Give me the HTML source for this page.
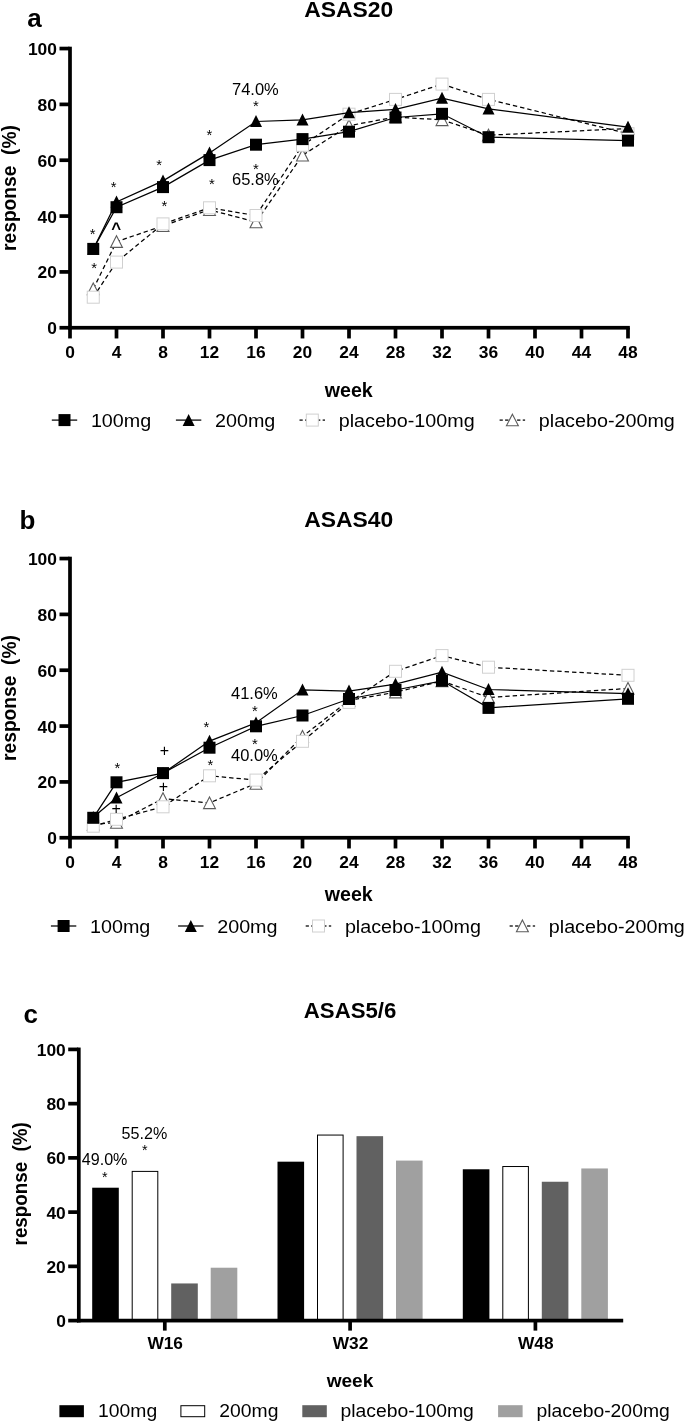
<!DOCTYPE html>
<html lang="en"><head><meta charset="utf-8"><title>ASAS response figure</title>
<style>
html,body{margin:0;padding:0;background:#fff;}
body{width:685px;height:1423px;overflow:hidden;}
svg{display:block;font-family:'Liberation Sans', Arial, sans-serif;fill:#000;}
svg text{white-space:pre;}
</style></head><body>
<svg width="685" height="1423" viewBox="0 0 685 1423" shape-rendering="auto">
<rect width="685" height="1423" fill="#fff"/>
<rect x="68.15" y="46.70" width="3.7" height="282.90" fill="#000"/>
<rect x="68.15" y="325.90" width="561.70" height="3.7" fill="#000"/>
<rect x="59.5" y="325.90" width="10" height="3.7" fill="#000"/>
<text x="56.90" y="334.00" font-size="17.4" font-weight="700" text-anchor="end">0</text>
<rect x="59.5" y="270.06" width="10" height="3.7" fill="#000"/>
<text x="56.90" y="278.00" font-size="17.4" font-weight="700" text-anchor="end">20</text>
<rect x="59.5" y="214.22" width="10" height="3.7" fill="#000"/>
<text x="56.90" y="223.00" font-size="17.4" font-weight="700" text-anchor="end">40</text>
<rect x="59.5" y="158.38" width="10" height="3.7" fill="#000"/>
<text x="56.90" y="167.00" font-size="17.4" font-weight="700" text-anchor="end">60</text>
<rect x="59.5" y="102.54" width="10" height="3.7" fill="#000"/>
<text x="56.90" y="111.00" font-size="17.4" font-weight="700" text-anchor="end">80</text>
<rect x="59.5" y="46.70" width="10" height="3.7" fill="#000"/>
<text x="56.90" y="55.00" font-size="17.4" font-weight="700" text-anchor="end">100</text>
<rect x="68.15" y="327.75" width="3.7" height="10.7" fill="#000"/>
<text x="70.00" y="358.00" font-size="17.4" font-weight="700" text-anchor="middle">0</text>
<rect x="114.65" y="327.75" width="3.7" height="10.7" fill="#000"/>
<text x="116.50" y="358.00" font-size="17.4" font-weight="700" text-anchor="middle">4</text>
<rect x="161.15" y="327.75" width="3.7" height="10.7" fill="#000"/>
<text x="163.00" y="358.00" font-size="17.4" font-weight="700" text-anchor="middle">8</text>
<rect x="207.65" y="327.75" width="3.7" height="10.7" fill="#000"/>
<text x="209.50" y="358.00" font-size="17.4" font-weight="700" text-anchor="middle">12</text>
<rect x="254.15" y="327.75" width="3.7" height="10.7" fill="#000"/>
<text x="256.00" y="358.00" font-size="17.4" font-weight="700" text-anchor="middle">16</text>
<rect x="300.65" y="327.75" width="3.7" height="10.7" fill="#000"/>
<text x="302.50" y="358.00" font-size="17.4" font-weight="700" text-anchor="middle">20</text>
<rect x="347.15" y="327.75" width="3.7" height="10.7" fill="#000"/>
<text x="349.00" y="358.00" font-size="17.4" font-weight="700" text-anchor="middle">24</text>
<rect x="393.65" y="327.75" width="3.7" height="10.7" fill="#000"/>
<text x="395.50" y="358.00" font-size="17.4" font-weight="700" text-anchor="middle">28</text>
<rect x="440.15" y="327.75" width="3.7" height="10.7" fill="#000"/>
<text x="442.00" y="358.00" font-size="17.4" font-weight="700" text-anchor="middle">32</text>
<rect x="486.65" y="327.75" width="3.7" height="10.7" fill="#000"/>
<text x="488.50" y="358.00" font-size="17.4" font-weight="700" text-anchor="middle">36</text>
<rect x="533.15" y="327.75" width="3.7" height="10.7" fill="#000"/>
<text x="535.00" y="358.00" font-size="17.4" font-weight="700" text-anchor="middle">40</text>
<rect x="579.65" y="327.75" width="3.7" height="10.7" fill="#000"/>
<text x="581.50" y="358.00" font-size="17.4" font-weight="700" text-anchor="middle">44</text>
<rect x="626.15" y="327.75" width="3.7" height="10.7" fill="#000"/>
<text x="628.00" y="358.00" font-size="17.4" font-weight="700" text-anchor="middle">48</text>
<text x="348.70" y="17.00" font-size="22.9" font-weight="700" text-anchor="middle">ASAS20</text>
<text x="348.80" y="397.00" font-size="19.6" font-weight="700" text-anchor="middle">week</text>
<text transform="translate(15.7 188.00) rotate(-90) scale(0.96 1)" font-size="20" font-weight="700" text-anchor="middle">response  (%)</text>
<text x="27.30" y="26.50" font-size="26" font-weight="700" text-anchor="start">a</text>
<path d="M93.25 289.00L116.50 241.70L163.00 225.80L209.50 209.80L256.00 222.00L302.50 155.30L349.00 125.70L395.50 117.00L442.00 119.90L488.50 135.20L628.00 128.50" fill="none" stroke="#000" stroke-width="1.25" stroke-dasharray="4.4 3"/>
<path d="M93.25 283.05L99.20 294.70L87.30 294.70Z" fill="#fff" stroke="#5c5c5c" stroke-width="1.1" stroke-linejoin="miter"/>
<path d="M116.50 235.75L122.45 247.40L110.55 247.40Z" fill="#fff" stroke="#5c5c5c" stroke-width="1.1" stroke-linejoin="miter"/>
<path d="M163.00 219.85L168.95 231.50L157.05 231.50Z" fill="#fff" stroke="#5c5c5c" stroke-width="1.1" stroke-linejoin="miter"/>
<path d="M209.50 203.85L215.45 215.50L203.55 215.50Z" fill="#fff" stroke="#5c5c5c" stroke-width="1.1" stroke-linejoin="miter"/>
<path d="M256.00 216.05L261.95 227.70L250.05 227.70Z" fill="#fff" stroke="#5c5c5c" stroke-width="1.1" stroke-linejoin="miter"/>
<path d="M302.50 149.35L308.45 161.00L296.55 161.00Z" fill="#fff" stroke="#5c5c5c" stroke-width="1.1" stroke-linejoin="miter"/>
<path d="M349.00 119.75L354.95 131.40L343.05 131.40Z" fill="#fff" stroke="#5c5c5c" stroke-width="1.1" stroke-linejoin="miter"/>
<path d="M395.50 111.05L401.45 122.70L389.55 122.70Z" fill="#fff" stroke="#5c5c5c" stroke-width="1.1" stroke-linejoin="miter"/>
<path d="M442.00 113.95L447.95 125.60L436.05 125.60Z" fill="#fff" stroke="#5c5c5c" stroke-width="1.1" stroke-linejoin="miter"/>
<path d="M488.50 129.25L494.45 140.90L482.55 140.90Z" fill="#fff" stroke="#5c5c5c" stroke-width="1.1" stroke-linejoin="miter"/>
<path d="M628.00 122.55L633.95 134.20L622.05 134.20Z" fill="#fff" stroke="#5c5c5c" stroke-width="1.1" stroke-linejoin="miter"/>
<path d="M93.25 297.20L116.50 262.10L163.00 223.90L209.50 207.80L256.00 215.50L302.50 145.30L349.00 114.20L395.50 99.40L442.00 84.10L488.50 99.40L628.00 133.70" fill="none" stroke="#000" stroke-width="1.25" stroke-dasharray="4.4 3"/>
<rect x="87.25" y="291.20" width="12.00" height="12.00" fill="#fff" stroke="#d0d0d0" stroke-width="1.0"/>
<rect x="110.50" y="256.10" width="12.00" height="12.00" fill="#fff" stroke="#d0d0d0" stroke-width="1.0"/>
<rect x="157.00" y="217.90" width="12.00" height="12.00" fill="#fff" stroke="#d0d0d0" stroke-width="1.0"/>
<rect x="203.50" y="201.80" width="12.00" height="12.00" fill="#fff" stroke="#d0d0d0" stroke-width="1.0"/>
<rect x="250.00" y="209.50" width="12.00" height="12.00" fill="#fff" stroke="#d0d0d0" stroke-width="1.0"/>
<rect x="296.50" y="139.30" width="12.00" height="12.00" fill="#fff" stroke="#d0d0d0" stroke-width="1.0"/>
<rect x="343.00" y="108.20" width="12.00" height="12.00" fill="#fff" stroke="#d0d0d0" stroke-width="1.0"/>
<rect x="389.50" y="93.40" width="12.00" height="12.00" fill="#fff" stroke="#d0d0d0" stroke-width="1.0"/>
<rect x="436.00" y="78.10" width="12.00" height="12.00" fill="#fff" stroke="#d0d0d0" stroke-width="1.0"/>
<rect x="482.50" y="93.40" width="12.00" height="12.00" fill="#fff" stroke="#d0d0d0" stroke-width="1.0"/>
<rect x="622.00" y="127.70" width="12.00" height="12.00" fill="#fff" stroke="#d0d0d0" stroke-width="1.0"/>
<path d="M93.25 249.20L116.50 202.00L163.00 180.90L209.50 152.90L256.00 121.50L302.50 119.80L349.00 112.60L395.50 109.30L442.00 98.10L488.50 108.90L628.00 127.10" fill="none" stroke="#000" stroke-width="1.25"/>
<path d="M93.25 242.80L99.25 254.80L87.25 254.80Z" fill="#000"/>
<path d="M116.50 195.60L122.50 207.60L110.50 207.60Z" fill="#000"/>
<path d="M163.00 174.50L169.00 186.50L157.00 186.50Z" fill="#000"/>
<path d="M209.50 146.50L215.50 158.50L203.50 158.50Z" fill="#000"/>
<path d="M256.00 115.10L262.00 127.10L250.00 127.10Z" fill="#000"/>
<path d="M302.50 113.40L308.50 125.40L296.50 125.40Z" fill="#000"/>
<path d="M349.00 106.20L355.00 118.20L343.00 118.20Z" fill="#000"/>
<path d="M395.50 102.90L401.50 114.90L389.50 114.90Z" fill="#000"/>
<path d="M442.00 91.70L448.00 103.70L436.00 103.70Z" fill="#000"/>
<path d="M488.50 102.50L494.50 114.50L482.50 114.50Z" fill="#000"/>
<path d="M628.00 120.70L634.00 132.70L622.00 132.70Z" fill="#000"/>
<path d="M93.25 248.90L116.50 207.20L163.00 187.10L209.50 160.10L256.00 144.70L302.50 139.10L349.00 131.70L395.50 117.50L442.00 113.80L488.50 137.20L628.00 140.60" fill="none" stroke="#000" stroke-width="1.25"/>
<rect x="87.25" y="242.90" width="12.00" height="12.00" fill="#000"/>
<rect x="110.50" y="201.20" width="12.00" height="12.00" fill="#000"/>
<rect x="157.00" y="181.10" width="12.00" height="12.00" fill="#000"/>
<rect x="203.50" y="154.10" width="12.00" height="12.00" fill="#000"/>
<rect x="250.00" y="138.70" width="12.00" height="12.00" fill="#000"/>
<rect x="296.50" y="133.10" width="12.00" height="12.00" fill="#000"/>
<rect x="343.00" y="125.70" width="12.00" height="12.00" fill="#000"/>
<rect x="389.50" y="111.50" width="12.00" height="12.00" fill="#000"/>
<rect x="436.00" y="107.80" width="12.00" height="12.00" fill="#000"/>
<rect x="482.50" y="131.20" width="12.00" height="12.00" fill="#000"/>
<rect x="622.00" y="134.60" width="12.00" height="12.00" fill="#000"/>
<text x="232.00" y="94.80" font-size="16.5" text-anchor="start">74.0%</text>
<text x="232.00" y="185.10" font-size="16.5" text-anchor="start">65.8%</text>
<text x="92.60" y="239.00" font-size="14.8" text-anchor="middle">*</text>
<text x="113.70" y="192.10" font-size="14.8" text-anchor="middle">*</text>
<text x="159.10" y="170.30" font-size="14.8" text-anchor="middle">*</text>
<text x="164.30" y="210.70" font-size="14.8" text-anchor="middle">*</text>
<text x="211.80" y="188.90" font-size="14.8" text-anchor="middle">*</text>
<text x="209.50" y="139.70" font-size="14.8" text-anchor="middle">*</text>
<text x="94.10" y="272.90" font-size="14.8" text-anchor="middle">*</text>
<text x="256.00" y="111.40" font-size="14.8" text-anchor="middle">*</text>
<text x="256.00" y="173.50" font-size="14.8" text-anchor="middle">*</text>
<text x="116.20" y="233.50" font-size="16.96" font-weight="700" text-anchor="middle">^</text>
<path d="M51.80 420.1H77.20" stroke="#000" stroke-width="1.25"/>
<rect x="58.50" y="414.10" width="12.00" height="12.00" fill="#000"/>
<text transform="translate(90.90 426.70) scale(1.0792349726775956 1)" font-size="18.3">100mg</text>
<path d="M175.90 420.1H201.30" stroke="#000" stroke-width="1.25"/>
<path d="M188.60 414.10L194.60 426.10L182.60 426.10Z" fill="#000"/>
<text transform="translate(215.00 426.70) scale(1.0792349726775956 1)" font-size="18.3">200mg</text>
<path d="M299.50 420.1H302.70" stroke="#000" stroke-width="1.25"/>
<path d="M305.00 420.1H308.40" stroke="#000" stroke-width="1.25"/>
<path d="M317.00 420.1H320.30" stroke="#000" stroke-width="1.25"/>
<path d="M322.65 420.1H325.00" stroke="#000" stroke-width="1.25"/>
<rect x="306.30" y="414.10" width="12.00" height="12.00" fill="#fff" stroke="#d0d0d0" stroke-width="1.0"/>
<text transform="translate(338.70 426.70) scale(1.0792349726775956 1)" font-size="18.3">placebo-100mg</text>
<path d="M499.60 420.1H502.80" stroke="#000" stroke-width="1.25"/>
<path d="M505.10 420.1H508.50" stroke="#000" stroke-width="1.25"/>
<path d="M517.10 420.1H520.40" stroke="#000" stroke-width="1.25"/>
<path d="M522.75 420.1H525.10" stroke="#000" stroke-width="1.25"/>
<path d="M512.40 414.15L518.35 425.80L506.45 425.80Z" fill="#fff" stroke="#5c5c5c" stroke-width="1.1" stroke-linejoin="miter"/>
<text transform="translate(538.80 426.70) scale(1.0792349726775956 1)" font-size="18.3">placebo-200mg</text>
<rect x="68.15" y="556.70" width="3.7" height="282.90" fill="#000"/>
<rect x="68.15" y="835.90" width="561.70" height="3.7" fill="#000"/>
<rect x="59.5" y="835.90" width="10" height="3.7" fill="#000"/>
<text x="56.90" y="844.00" font-size="17.4" font-weight="700" text-anchor="end">0</text>
<rect x="59.5" y="780.06" width="10" height="3.7" fill="#000"/>
<text x="56.90" y="788.00" font-size="17.4" font-weight="700" text-anchor="end">20</text>
<rect x="59.5" y="724.22" width="10" height="3.7" fill="#000"/>
<text x="56.90" y="733.00" font-size="17.4" font-weight="700" text-anchor="end">40</text>
<rect x="59.5" y="668.38" width="10" height="3.7" fill="#000"/>
<text x="56.90" y="677.00" font-size="17.4" font-weight="700" text-anchor="end">60</text>
<rect x="59.5" y="612.54" width="10" height="3.7" fill="#000"/>
<text x="56.90" y="621.00" font-size="17.4" font-weight="700" text-anchor="end">80</text>
<rect x="59.5" y="556.70" width="10" height="3.7" fill="#000"/>
<text x="56.90" y="565.00" font-size="17.4" font-weight="700" text-anchor="end">100</text>
<rect x="68.15" y="837.75" width="3.7" height="10.7" fill="#000"/>
<text x="70.00" y="868.00" font-size="17.4" font-weight="700" text-anchor="middle">0</text>
<rect x="114.65" y="837.75" width="3.7" height="10.7" fill="#000"/>
<text x="116.50" y="868.00" font-size="17.4" font-weight="700" text-anchor="middle">4</text>
<rect x="161.15" y="837.75" width="3.7" height="10.7" fill="#000"/>
<text x="163.00" y="868.00" font-size="17.4" font-weight="700" text-anchor="middle">8</text>
<rect x="207.65" y="837.75" width="3.7" height="10.7" fill="#000"/>
<text x="209.50" y="868.00" font-size="17.4" font-weight="700" text-anchor="middle">12</text>
<rect x="254.15" y="837.75" width="3.7" height="10.7" fill="#000"/>
<text x="256.00" y="868.00" font-size="17.4" font-weight="700" text-anchor="middle">16</text>
<rect x="300.65" y="837.75" width="3.7" height="10.7" fill="#000"/>
<text x="302.50" y="868.00" font-size="17.4" font-weight="700" text-anchor="middle">20</text>
<rect x="347.15" y="837.75" width="3.7" height="10.7" fill="#000"/>
<text x="349.00" y="868.00" font-size="17.4" font-weight="700" text-anchor="middle">24</text>
<rect x="393.65" y="837.75" width="3.7" height="10.7" fill="#000"/>
<text x="395.50" y="868.00" font-size="17.4" font-weight="700" text-anchor="middle">28</text>
<rect x="440.15" y="837.75" width="3.7" height="10.7" fill="#000"/>
<text x="442.00" y="868.00" font-size="17.4" font-weight="700" text-anchor="middle">32</text>
<rect x="486.65" y="837.75" width="3.7" height="10.7" fill="#000"/>
<text x="488.50" y="868.00" font-size="17.4" font-weight="700" text-anchor="middle">36</text>
<rect x="533.15" y="837.75" width="3.7" height="10.7" fill="#000"/>
<text x="535.00" y="868.00" font-size="17.4" font-weight="700" text-anchor="middle">40</text>
<rect x="579.65" y="837.75" width="3.7" height="10.7" fill="#000"/>
<text x="581.50" y="868.00" font-size="17.4" font-weight="700" text-anchor="middle">44</text>
<rect x="626.15" y="837.75" width="3.7" height="10.7" fill="#000"/>
<text x="628.00" y="868.00" font-size="17.4" font-weight="700" text-anchor="middle">48</text>
<text x="348.70" y="527.00" font-size="22.9" font-weight="700" text-anchor="middle">ASAS40</text>
<text x="348.80" y="901.00" font-size="19.6" font-weight="700" text-anchor="middle">week</text>
<text transform="translate(15.7 698.00) rotate(-90) scale(0.96 1)" font-size="20" font-weight="700" text-anchor="middle">response  (%)</text>
<text x="19.50" y="528.60" font-size="26" font-weight="700" text-anchor="start">b</text>
<path d="M93.25 824.50L116.50 822.50L163.00 798.70L209.50 802.90L256.00 783.50L302.50 736.40L349.00 700.50L395.50 692.20L442.00 681.00L488.50 697.50L628.00 688.50" fill="none" stroke="#000" stroke-width="1.25" stroke-dasharray="4.4 3"/>
<path d="M93.25 818.55L99.20 830.20L87.30 830.20Z" fill="#fff" stroke="#5c5c5c" stroke-width="1.1" stroke-linejoin="miter"/>
<path d="M116.50 816.55L122.45 828.20L110.55 828.20Z" fill="#fff" stroke="#5c5c5c" stroke-width="1.1" stroke-linejoin="miter"/>
<path d="M163.00 792.75L168.95 804.40L157.05 804.40Z" fill="#fff" stroke="#5c5c5c" stroke-width="1.1" stroke-linejoin="miter"/>
<path d="M209.50 796.95L215.45 808.60L203.55 808.60Z" fill="#fff" stroke="#5c5c5c" stroke-width="1.1" stroke-linejoin="miter"/>
<path d="M256.00 777.55L261.95 789.20L250.05 789.20Z" fill="#fff" stroke="#5c5c5c" stroke-width="1.1" stroke-linejoin="miter"/>
<path d="M302.50 730.45L308.45 742.10L296.55 742.10Z" fill="#fff" stroke="#5c5c5c" stroke-width="1.1" stroke-linejoin="miter"/>
<path d="M349.00 694.55L354.95 706.20L343.05 706.20Z" fill="#fff" stroke="#5c5c5c" stroke-width="1.1" stroke-linejoin="miter"/>
<path d="M395.50 686.25L401.45 697.90L389.55 697.90Z" fill="#fff" stroke="#5c5c5c" stroke-width="1.1" stroke-linejoin="miter"/>
<path d="M442.00 675.05L447.95 686.70L436.05 686.70Z" fill="#fff" stroke="#5c5c5c" stroke-width="1.1" stroke-linejoin="miter"/>
<path d="M488.50 691.55L494.45 703.20L482.55 703.20Z" fill="#fff" stroke="#5c5c5c" stroke-width="1.1" stroke-linejoin="miter"/>
<path d="M628.00 682.55L633.95 694.20L622.05 694.20Z" fill="#fff" stroke="#5c5c5c" stroke-width="1.1" stroke-linejoin="miter"/>
<path d="M93.25 826.20L116.50 819.30L163.00 806.80L209.50 775.80L256.00 780.10L302.50 741.30L349.00 702.40L395.50 671.30L442.00 655.60L488.50 667.20L628.00 675.30" fill="none" stroke="#000" stroke-width="1.25" stroke-dasharray="4.4 3"/>
<rect x="87.25" y="820.20" width="12.00" height="12.00" fill="#fff" stroke="#d0d0d0" stroke-width="1.0"/>
<rect x="110.50" y="813.30" width="12.00" height="12.00" fill="#fff" stroke="#d0d0d0" stroke-width="1.0"/>
<rect x="157.00" y="800.80" width="12.00" height="12.00" fill="#fff" stroke="#d0d0d0" stroke-width="1.0"/>
<rect x="203.50" y="769.80" width="12.00" height="12.00" fill="#fff" stroke="#d0d0d0" stroke-width="1.0"/>
<rect x="250.00" y="774.10" width="12.00" height="12.00" fill="#fff" stroke="#d0d0d0" stroke-width="1.0"/>
<rect x="296.50" y="735.30" width="12.00" height="12.00" fill="#fff" stroke="#d0d0d0" stroke-width="1.0"/>
<rect x="343.00" y="696.40" width="12.00" height="12.00" fill="#fff" stroke="#d0d0d0" stroke-width="1.0"/>
<rect x="389.50" y="665.30" width="12.00" height="12.00" fill="#fff" stroke="#d0d0d0" stroke-width="1.0"/>
<rect x="436.00" y="649.60" width="12.00" height="12.00" fill="#fff" stroke="#d0d0d0" stroke-width="1.0"/>
<rect x="482.50" y="661.20" width="12.00" height="12.00" fill="#fff" stroke="#d0d0d0" stroke-width="1.0"/>
<rect x="622.00" y="669.30" width="12.00" height="12.00" fill="#fff" stroke="#d0d0d0" stroke-width="1.0"/>
<path d="M93.25 817.30L116.50 797.80L163.00 773.30L209.50 741.10L256.00 722.80L302.50 689.80L349.00 691.00L395.50 684.20L442.00 672.20L488.50 689.50L628.00 693.60" fill="none" stroke="#000" stroke-width="1.25"/>
<path d="M93.25 810.90L99.25 822.90L87.25 822.90Z" fill="#000"/>
<path d="M116.50 791.40L122.50 803.40L110.50 803.40Z" fill="#000"/>
<path d="M163.00 766.90L169.00 778.90L157.00 778.90Z" fill="#000"/>
<path d="M209.50 734.70L215.50 746.70L203.50 746.70Z" fill="#000"/>
<path d="M256.00 716.40L262.00 728.40L250.00 728.40Z" fill="#000"/>
<path d="M302.50 683.40L308.50 695.40L296.50 695.40Z" fill="#000"/>
<path d="M349.00 684.60L355.00 696.60L343.00 696.60Z" fill="#000"/>
<path d="M395.50 677.80L401.50 689.80L389.50 689.80Z" fill="#000"/>
<path d="M442.00 665.80L448.00 677.80L436.00 677.80Z" fill="#000"/>
<path d="M488.50 683.10L494.50 695.10L482.50 695.10Z" fill="#000"/>
<path d="M628.00 687.20L634.00 699.20L622.00 699.20Z" fill="#000"/>
<path d="M93.25 817.80L116.50 782.30L163.00 773.10L209.50 747.70L256.00 726.30L302.50 715.50L349.00 699.00L395.50 690.00L442.00 680.80L488.50 707.90L628.00 698.80" fill="none" stroke="#000" stroke-width="1.25"/>
<rect x="87.25" y="811.80" width="12.00" height="12.00" fill="#000"/>
<rect x="110.50" y="776.30" width="12.00" height="12.00" fill="#000"/>
<rect x="157.00" y="767.10" width="12.00" height="12.00" fill="#000"/>
<rect x="203.50" y="741.70" width="12.00" height="12.00" fill="#000"/>
<rect x="250.00" y="720.30" width="12.00" height="12.00" fill="#000"/>
<rect x="296.50" y="709.50" width="12.00" height="12.00" fill="#000"/>
<rect x="343.00" y="693.00" width="12.00" height="12.00" fill="#000"/>
<rect x="389.50" y="684.00" width="12.00" height="12.00" fill="#000"/>
<rect x="436.00" y="674.80" width="12.00" height="12.00" fill="#000"/>
<rect x="482.50" y="701.90" width="12.00" height="12.00" fill="#000"/>
<rect x="622.00" y="692.80" width="12.00" height="12.00" fill="#000"/>
<text x="231.00" y="699.00" font-size="16.5" text-anchor="start">41.6%</text>
<text x="231.00" y="761.20" font-size="16.5" text-anchor="start">40.0%</text>
<text x="117.40" y="773.40" font-size="14.8" text-anchor="middle">*</text>
<text x="206.50" y="731.70" font-size="14.8" text-anchor="middle">*</text>
<text x="210.40" y="770.10" font-size="14.8" text-anchor="middle">*</text>
<text x="255.00" y="715.60" font-size="14.8" text-anchor="middle">*</text>
<text x="255.00" y="748.60" font-size="14.8" text-anchor="middle">*</text>
<text x="116.20" y="813.60" font-size="16" text-anchor="middle">+</text>
<text x="164.30" y="755.80" font-size="16" text-anchor="middle">+</text>
<text x="163.50" y="791.80" font-size="16" text-anchor="middle">+</text>
<path d="M50.90 926.0H76.30" stroke="#000" stroke-width="1.25"/>
<rect x="57.60" y="920.00" width="12.00" height="12.00" fill="#000"/>
<text transform="translate(90.00 932.60) scale(1.0792349726775956 1)" font-size="18.3">100mg</text>
<path d="M178.10 926.0H203.50" stroke="#000" stroke-width="1.25"/>
<path d="M190.80 920.00L196.80 932.00L184.80 932.00Z" fill="#000"/>
<text transform="translate(217.20 932.60) scale(1.0792349726775956 1)" font-size="18.3">200mg</text>
<path d="M305.70 926.0H308.90" stroke="#000" stroke-width="1.25"/>
<path d="M311.20 926.0H314.60" stroke="#000" stroke-width="1.25"/>
<path d="M323.20 926.0H326.50" stroke="#000" stroke-width="1.25"/>
<path d="M328.85 926.0H331.20" stroke="#000" stroke-width="1.25"/>
<rect x="312.50" y="920.00" width="12.00" height="12.00" fill="#fff" stroke="#d0d0d0" stroke-width="1.0"/>
<text transform="translate(344.90 932.60) scale(1.0792349726775956 1)" font-size="18.3">placebo-100mg</text>
<path d="M509.60 926.0H512.80" stroke="#000" stroke-width="1.25"/>
<path d="M515.10 926.0H518.50" stroke="#000" stroke-width="1.25"/>
<path d="M527.10 926.0H530.40" stroke="#000" stroke-width="1.25"/>
<path d="M532.75 926.0H535.10" stroke="#000" stroke-width="1.25"/>
<path d="M522.40 920.05L528.35 931.70L516.45 931.70Z" fill="#fff" stroke="#5c5c5c" stroke-width="1.1" stroke-linejoin="miter"/>
<text transform="translate(548.80 932.60) scale(1.0792349726775956 1)" font-size="18.3">placebo-200mg</text>
<rect x="162.95" y="1320.60" width="3.7" height="10" fill="#000"/>
<text x="165.20" y="1348.90" font-size="17.3" font-weight="700" text-anchor="middle">W16</text>
<rect x="92.20" y="1187.71" width="26.6" height="132.89" fill="#000"/>
<rect x="132.20" y="1171.40" width="25.60" height="149.20" fill="#fff" stroke="#000" stroke-width="1"/>
<rect x="171.20" y="1283.45" width="26.6" height="37.15" fill="#616161"/>
<rect x="210.70" y="1267.72" width="26.6" height="52.88" fill="#a0a0a0"/>
<rect x="348.25" y="1320.60" width="3.7" height="10" fill="#000"/>
<text x="350.50" y="1348.90" font-size="17.3" font-weight="700" text-anchor="middle">W32</text>
<rect x="277.50" y="1161.68" width="26.6" height="158.92" fill="#000"/>
<rect x="317.50" y="1135.06" width="25.60" height="185.54" fill="#fff" stroke="#000" stroke-width="1"/>
<rect x="356.50" y="1136.18" width="26.6" height="184.42" fill="#616161"/>
<rect x="396.00" y="1160.59" width="26.6" height="160.01" fill="#a0a0a0"/>
<rect x="533.55" y="1320.60" width="3.7" height="10" fill="#000"/>
<text x="535.80" y="1348.90" font-size="17.3" font-weight="700" text-anchor="middle">W48</text>
<rect x="462.80" y="1169.27" width="26.6" height="151.33" fill="#000"/>
<rect x="502.80" y="1166.52" width="25.60" height="154.08" fill="#fff" stroke="#000" stroke-width="1"/>
<rect x="541.80" y="1181.75" width="26.6" height="138.85" fill="#616161"/>
<rect x="581.30" y="1168.46" width="26.6" height="152.14" fill="#a0a0a0"/>
<rect x="76.95" y="1047.55" width="3.7" height="274.90" fill="#000"/>
<rect x="76.95" y="1318.75" width="546.25" height="3.7" fill="#000"/>
<rect x="68.2" y="1318.75" width="10" height="3.7" fill="#000"/>
<text x="65.80" y="1327.00" font-size="17.4" font-weight="700" text-anchor="end">0</text>
<rect x="68.2" y="1264.51" width="10" height="3.7" fill="#000"/>
<text x="65.80" y="1273.00" font-size="17.4" font-weight="700" text-anchor="end">20</text>
<rect x="68.2" y="1210.27" width="10" height="3.7" fill="#000"/>
<text x="65.80" y="1219.00" font-size="17.4" font-weight="700" text-anchor="end">40</text>
<rect x="68.2" y="1156.03" width="10" height="3.7" fill="#000"/>
<text x="65.80" y="1164.00" font-size="17.4" font-weight="700" text-anchor="end">60</text>
<rect x="68.2" y="1101.79" width="10" height="3.7" fill="#000"/>
<text x="65.80" y="1110.00" font-size="17.4" font-weight="700" text-anchor="end">80</text>
<rect x="68.2" y="1047.55" width="10" height="3.7" fill="#000"/>
<text x="65.80" y="1056.00" font-size="17.4" font-weight="700" text-anchor="end">100</text>
<text x="350.10" y="1018.00" font-size="22.2" font-weight="700" text-anchor="middle">ASAS5/6</text>
<text x="350.00" y="1387.00" font-size="19.1" font-weight="700" text-anchor="middle">week</text>
<text transform="translate(26.5 1183.8) rotate(-90) scale(0.95 1)" font-size="19.8" font-weight="700" text-anchor="middle">response  (%)</text>
<text x="23.40" y="1022.80" font-size="26" font-weight="700" text-anchor="start">c</text>
<text x="121.60" y="1138.50" font-size="16.1" text-anchor="start">55.2%</text>
<text x="81.80" y="1165.30" font-size="16.1" text-anchor="start">49.0%</text>
<text x="144.90" y="1154.99" font-size="14.3375" text-anchor="middle">*</text>
<text x="104.70" y="1182.29" font-size="14.3375" text-anchor="middle">*</text>
<rect x="59.4" y="1405.2" width="24.5" height="12" fill="#000"/>
<text transform="translate(98.00 1417.00) scale(1.0573770491803278 1)" font-size="18.3">100mg</text>
<rect x="180.9" y="1405.7" width="23.8" height="11" fill="#fff" stroke="#000" stroke-width="1"/>
<text transform="translate(219.30 1417.00) scale(1.0573770491803278 1)" font-size="18.3">200mg</text>
<rect x="302.3" y="1405.2" width="24.5" height="12" fill="#616161"/>
<text transform="translate(340.50 1417.00) scale(1.0573770491803278 1)" font-size="18.3">placebo-100mg</text>
<rect x="498.1" y="1405.2" width="24.5" height="12" fill="#a0a0a0"/>
<text transform="translate(536.40 1417.00) scale(1.0573770491803278 1)" font-size="18.3">placebo-200mg</text>
</svg>
</body></html>
